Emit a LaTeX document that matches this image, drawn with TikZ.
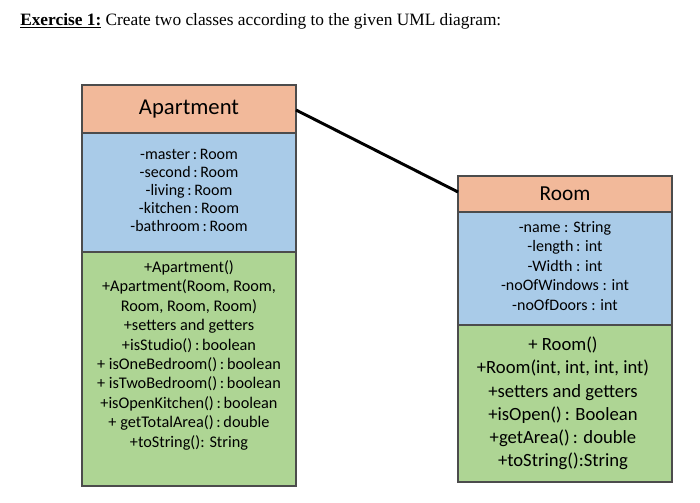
\documentclass[tikz,border=0pt]{standalone}
\usepackage{fontspec}
\setmainfont{Liberation Serif}
\newfontfamily\calfnt{Carlito}
\definecolor{hdrc}{HTML}{F2B99A}
\definecolor{attc}{HTML}{A9CBE8}
\definecolor{mthc}{HTML}{AED594}
\begin{document}
\begin{tikzpicture}[x=0.75pt,y=-0.75pt,
  hdr/.style={draw=black!70,fill=hdrc,line width=0.8pt},
  att/.style={draw=black!70,fill=attc,line width=0.8pt},
  mth/.style={draw=black!70,fill=mthc,line width=0.8pt},
  t/.style={font=\calfnt\fontsize{12}{13.5}\selectfont,align=center,inner sep=0pt},
  tm/.style={font=\calfnt\fontsize{12.2}{14.6}\selectfont,align=center,inner sep=0pt},
  tr/.style={font=\calfnt\fontsize{12}{14.6}\selectfont,align=center,inner sep=0pt},
  tb/.style={font=\calfnt\fontsize{14}{17.3}\selectfont,align=center,inner sep=0pt}]
\fill[white] (0,0) rectangle (700,503);
\useasboundingbox (0,0) rectangle (700,503);
\node[anchor=west,inner sep=0pt,font=\fontsize{13}{15}\selectfont] (title) at (20,21) {\underline{\textbf{Exercise 1:}} Create two classes according to the given UML diagram:};
% Apartment
\draw[hdr] (82,85) rectangle (296,133);
\draw[att] (82,133) rectangle (296,252);
\draw[mth] (82,252) rectangle (296,486);
\node[t,font=\calfnt\fontsize{17}{20}\selectfont] (aname) at (189,109) {Apartment};
\node[t,anchor=north] (aattr) at (189,149) {-master\,:\,Room\\-second\,:\,Room\\-living\,:\,Room\\-kitchen\,:\,Room\\-bathroom\,:\,Room};
\node[tm,anchor=north] (ameth) at (189,260) {+Apartment()\\+Apartment(Room, Room,\\Room, Room, Room)\\+setters and getters\\+isStudio()\,:\,boolean\\+ isOneBedroom()\,:\,boolean\\+ isTwoBedroom()\,:\,boolean\\+isOpenKitchen()\,:\,boolean\\+ getTotalArea()\,:\,double\\+toString(): String};
% Room
\draw[hdr] (458,176) rectangle (672,212);
\draw[att] (458,212) rectangle (672,325);
\draw[mth] (458,325) rectangle (672,482);
\node[t,font=\calfnt\fontsize{16}{18}\selectfont] (rname) at (565,194) {Room};
\node[tr,anchor=north] (rattr) at (565,221) {-name : String\\-length\,: int\\-Width : int\\-noOfWindows : int\\-noOfDoors : int};
\node[tb,anchor=north] (rmeth) at (563,337) {+ Room()\\+Room(int, int, int, int)\\+setters and getters\\+isOpen()\,: Boolean\\+getArea()\,: double\\+toString():String};
\coordinate (a) at (296,110);
\coordinate (b) at (458,192);
\draw[line width=2.2pt] (a) -- (b);
\end{tikzpicture}
\end{document}
